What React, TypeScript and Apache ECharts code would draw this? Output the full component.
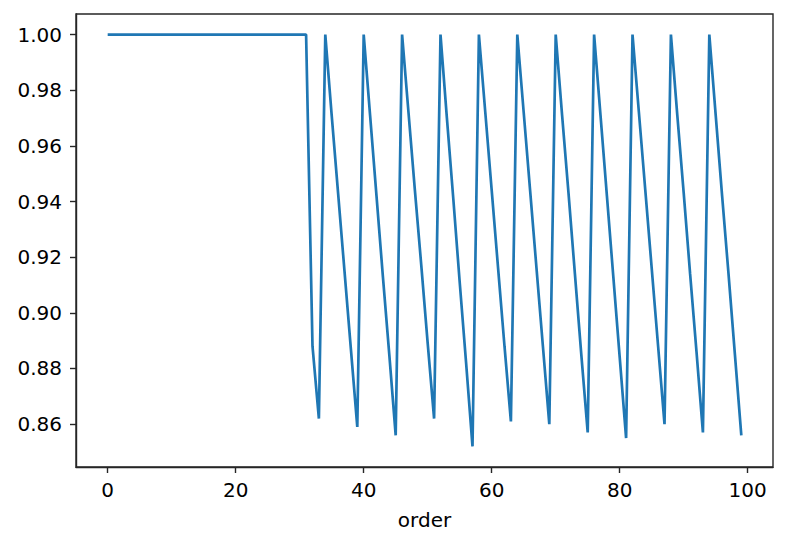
import { useRef, useEffect } from 'react'
import * as echarts from 'echarts'

// ── 数据 ──────────────────────────────────────────────────────────
const orderValues: number[] = [
  1.0, 1.0, 1.0, 1.0, 1.0, 1.0, 1.0, 1.0, 1.0, 1.0,
  1.0, 1.0, 1.0, 1.0, 1.0, 1.0, 1.0, 1.0, 1.0, 1.0,
  1.0, 1.0, 1.0, 1.0, 1.0, 1.0, 1.0, 1.0, 1.0, 1.0,
  1.0, 1.0, 0.888, 0.862,
  1.0, 0.971, 0.943, 0.915, 0.887, 0.859,
  1.0, 0.971, 0.942, 0.913, 0.885, 0.856,
  1.0, 0.972, 0.944, 0.917, 0.889, 0.862,
  1.0, 0.970, 0.941, 0.911, 0.882, 0.852,
  1.0, 0.972, 0.944, 0.916, 0.888, 0.861,
  1.0, 0.972, 0.944, 0.916, 0.888, 0.860,
  1.0, 0.971, 0.943, 0.914, 0.885, 0.857,
  1.0, 0.971, 0.942, 0.913, 0.884, 0.855,
  1.0, 0.972, 0.944, 0.916, 0.888, 0.860,
  1.0, 0.971, 0.943, 0.914, 0.886, 0.857,
  1.0, 0.971, 0.942, 0.914, 0.885, 0.856,
]

const xTicks = [0, 20, 40, 60, 80, 100]
const yTicks = [0.86, 0.88, 0.9, 0.92, 0.94, 0.96, 0.98, 1.0]

const FONT = 'DejaVu Sans, sans-serif'

function buildOption(): echarts.EChartsOption {
  const seriesData = orderValues.map((v, i) => [i, v])

  return {
    animation: false,
    backgroundColor: '#ffffff',
    grid: {
      left: 76, top: 14, right: 15, bottom: 78,
      show: true, borderColor: '#262626', borderWidth: 1.4,
      backgroundColor: 'transparent',
    },
    xAxis: {
      type: 'value',
      min: -4.95, max: 103.95,
      name: 'order',
      nameLocation: 'middle',
      nameGap: 43,
      nameTextStyle: { color: '#000', fontSize: 20, fontFamily: FONT },
      axisLine: { show: true, onZero: false, lineStyle: { color: '#262626', width: 1.4 } },
      axisTick: {
        show: true, length: 6, inside: false,
        customValues: xTicks,
        lineStyle: { color: '#262626', width: 1.4 },
      },
      axisLabel: {
        color: '#000', fontSize: 20, fontFamily: FONT, margin: 13,
        customValues: xTicks,
        formatter: (v: number) => String(v),
      },
      splitLine: { show: false },
    },
    yAxis: {
      type: 'value',
      min: 0.8446, max: 1.0074,
      axisLine: { show: true, onZero: false, lineStyle: { color: '#262626', width: 1.4 } },
      axisTick: {
        show: true, length: 6, inside: false,
        customValues: yTicks,
        lineStyle: { color: '#262626', width: 1.4 },
      },
      axisLabel: {
        color: '#000', fontSize: 20, fontFamily: FONT, margin: 14,
        customValues: yTicks,
        formatter: (v: number) => v.toFixed(2),
      },
      splitLine: { show: false },
    },
    series: [
      {
        type: 'line',
        data: seriesData,
        symbol: 'none',
        lineStyle: { color: '#1f77b4', width: 2.7 },
      },
    ],
  } as echarts.EChartsOption
}

export default function App() {
  const containerRef = useRef<HTMLDivElement>(null)

  useEffect(() => {
    if (!containerRef.current) return
    const chart = echarts.init(containerRef.current, undefined, { renderer: 'svg' })
    chart.setOption(buildOption())
    return () => {
      chart.dispose()
    }
  }, [])

  return (
    <div
      ref={containerRef}
      style={{ position: 'absolute', left: 0, top: 0, width: 788, height: 545, background: '#fff' }}
    />
  )
}
